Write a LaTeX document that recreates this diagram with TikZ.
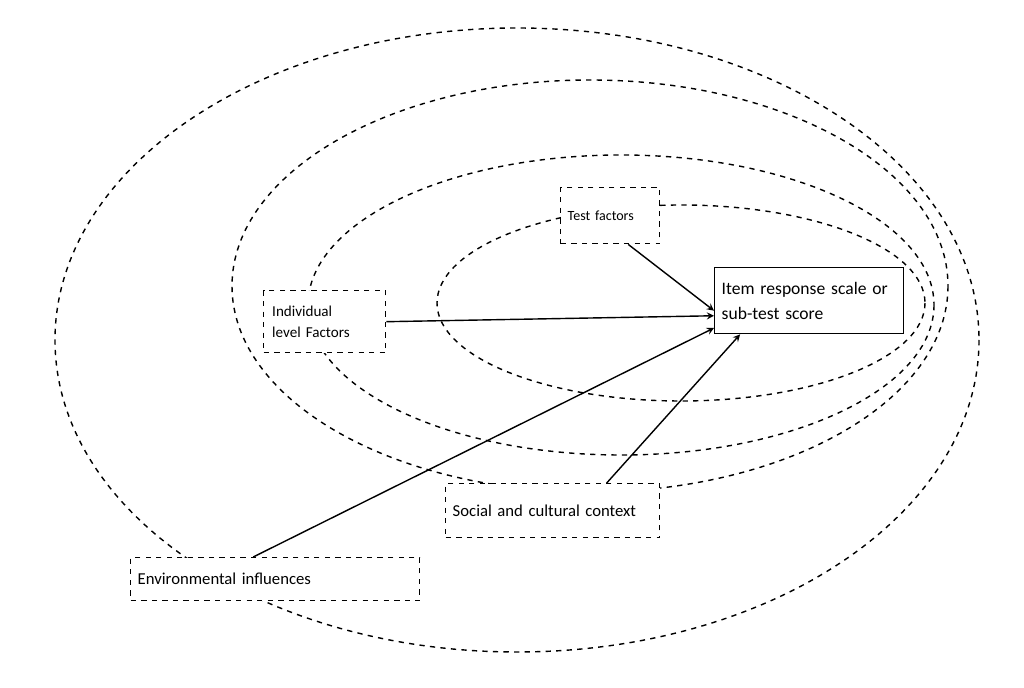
\documentclass[tikz,border=0pt]{standalone}
\usepackage{fontspec}
\setmainfont{Carlito}
\usetikzlibrary{calc}
\tikzset{
  ring/.style={dashed, thick},
  factor/.style={draw, dashed, thick, fill=white, align=left, font=\fontsize{8.6}{12}\selectfont, inner sep=4pt},
  arr/.style={->, >=stealth, thick}
}
\begin{document}
\begin{tikzpicture}[x=0.02cm, y=-0.02cm]

\useasboundingbox (0,0) rectangle (1024,688);

\draw[ring] (517,340) ellipse [x radius=462, y radius=312];
\draw[ring] (590,286) ellipse [x radius=358, y radius=206];
\draw[ring] (621,305) ellipse [x radius=313, y radius=150];
\draw[ring] (681,303) ellipse [x radius=244, y radius=98];

\node[factor, minimum width=1.96cm, minimum height=1.12cm, anchor=north west, text width=1.7cm, font=\fontsize{8}{11}\selectfont] (test) at (560,187) {Test factors\\[14pt]};

\node[factor, minimum width=2.44cm, minimum height=1.24cm, anchor=north west, text width=2.1cm] (ind) at (263,290) {Individual\\level Factors\\[-3pt]};

\node[draw, thick, fill=white, align=left, font=\fontsize{10}{14}\selectfont, minimum width=3.78cm, minimum height=1.32cm, anchor=north west, text width=3.5cm] (item) at (714,267) {Item response scale or\\sub-test score\\[-3pt]};

\node[factor, minimum width=4.24cm, minimum height=1.08cm, anchor=north west, text width=4cm, font=\fontsize{9.5}{12}\selectfont] (social) at (445,483) {Social and cultural context\\[-4pt]};

\node[factor, minimum width=5.78cm, minimum height=0.86cm, anchor=north west, text width=5.5cm, font=\fontsize{9.5}{12}\selectfont] (env) at (130,557) {Environmental influences};

\draw[arr] ($(test.south)+(18,0)$) -- (item.186);
\draw[arr] (ind.east) -- (item.189);
\draw[arr] ($(env.north)+(-22,0)$) -- (item.196);
\draw[arr] ($(social.north)+(54,0)$) -- (item.206);

\end{tikzpicture}
\end{document}
